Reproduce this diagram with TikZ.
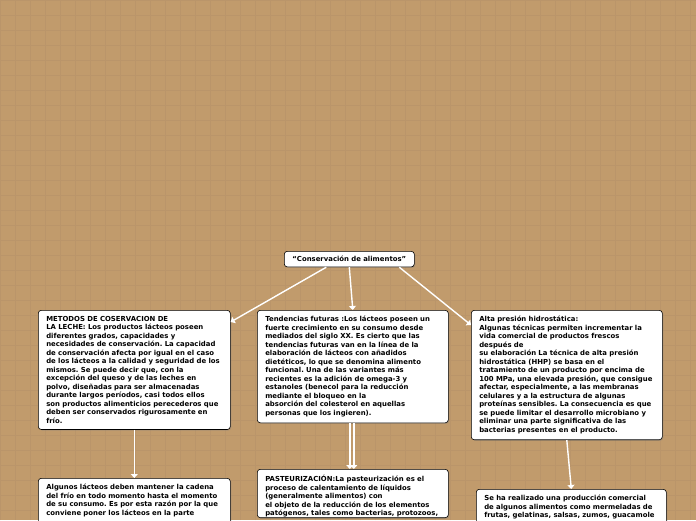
\documentclass[tikz,border=0pt]{standalone}
\usepackage{fontspec}
\setmainfont{DejaVu Sans}
\usetikzlibrary{arrows.meta,shadows}

\definecolor{tablero}{HTML}{C19B6C}
\definecolor{rejilla}{HTML}{BA956A}

\tikzset{
  caja/.style={draw=black, fill=white, rounded corners=3pt, anchor=north west,
    align=left, inner xsep=8pt, inner ysep=6pt, line width=0.6pt,
    drop shadow={opacity=0.35, shadow xshift=1pt, shadow yshift=-1pt},
    font=\fontsize{6.9}{8.5}\selectfont\bfseries\frenchspacing},
  flecha/.style={draw=white, line width=1.4pt,
    -{Triangle[width=7pt,length=4pt]}},
}

\begin{document}
\begin{tikzpicture}[x=1pt,y=-1pt]
  \clip (0,0) rectangle (696,520);
  \fill[tablero] (0,0) rectangle (696,520);
  \draw[rejilla, line width=0.4pt] (0,0) grid[step=15pt] (696,520);

  % raiz
  \node[caja, inner ysep=5pt, align=center, text width=114pt] (raiz) at (284,251)
    {``Conservación de alimentos''};

  % primera fila
  \node[caja, text width=176pt] (metodos) at (38,310)
    {METODOS DE COSERVACION DE\\
     LA LECHE: Los productos lácteos poseen\\
     diferentes grados, capacidades y\\
     necesidades de conservación. La capacidad\\
     de conservación afecta por igual en el caso\\
     de los lácteos a la calidad y seguridad de los\\
     mismos. Se puede decir que, con la\\
     excepción del queso y de las leches en\\
     polvo, diseñadas para ser almacenadas\\
     durante largos períodos, casi todos ellos\\
     son productos alimenticios perecederos que\\
     deben ser conservados rigurosamente en\\
     frío.};
  \node[caja, text width=175pt] (tendencias) at (257,310)
    {Tendencias futuras :Los lácteos poseen un\\
     fuerte crecimiento en su consumo desde\\
     mediados del siglo XX. Es cierto que las\\
     tendencias futuras van en la línea de la\\
     elaboración de lácteos con añadidos\\
     dietéticos, lo que se denomina alimento\\
     funcional. Una de las variantes más\\
     recientes es la adición de omega-3 y\\
     estanoles (benecol para la reducción\\
     mediante el bloqueo en la\\
     absorción del colesterol en aquellas\\
     personas que los ingieren).};
  \node[caja, text width=175pt] (alta) at (471,310)
    {Alta presión hidrostática:\\
     Algunas técnicas permiten incrementar la\\
     vida comercial de productos frescos\\
     después de\\
     su elaboración La técnica de alta presión\\
     hidrostática (HHP) se basa en el\\
     tratamiento de un producto por encima de\\
     100 MPa, una elevada presión, que consigue\\
     afectar, especialmente, a las membranas\\
     celulares y a la estructura de algunas\\
     proteínas sensibles. La consecuencia es que\\
     se puede limitar el desarrollo microbiano y\\
     eliminar una parte significativa de las\\
     bacterias presentes en el producto.};

  % segunda fila (cortada abajo)
  \node[caja, text width=176pt, text depth=30pt] (cadena) at (38,478)
    {Algunos lácteos deben mantener la cadena\\
     del frío en todo momento hasta el momento\\
     de su consumo. Es por esta razón por la que\\
     conviene poner los lácteos en la parte};
  \node[caja, text width=175pt, text depth=30pt] (pasteur) at (257,469)
    {PASTEURIZACIÓN:La pasteurización es el\\
     proceso de calentamiento de líquidos\\
     (generalmente alimentos) con\\
     el objeto de la reducción de los elementos\\
     patógenos, tales como bacterias, protozoos,};
  \node[caja, text width=174pt, text depth=30pt] (comercial) at (476,489)
    {Se ha realizado una producción comercial\\
     de algunos alimentos como mermeladas de\\
     frutas, gelatinas, salsas, zumos, guacamole};

  % conectores
  \draw[flecha] ([xshift=-23pt]raiz.south) -- ([yshift=-12pt]metodos.north east);
  \draw[flecha] (raiz.south) -- (tendencias.north);
  \draw[flecha] ([xshift=50pt]raiz.south) -- ([yshift=-15pt]alta.north west);
  \draw[flecha] (metodos.south) -- (cadena.north);
  \draw[flecha] ([xshift=-3pt]tendencias.south) -- ([xshift=-3pt]pasteur.north);
  \draw[flecha] ([xshift=1pt]tendencias.south) -- ([xshift=1pt]pasteur.north);
  \draw[flecha] (alta.south) -- (comercial.north);
\end{tikzpicture}
\end{document}
